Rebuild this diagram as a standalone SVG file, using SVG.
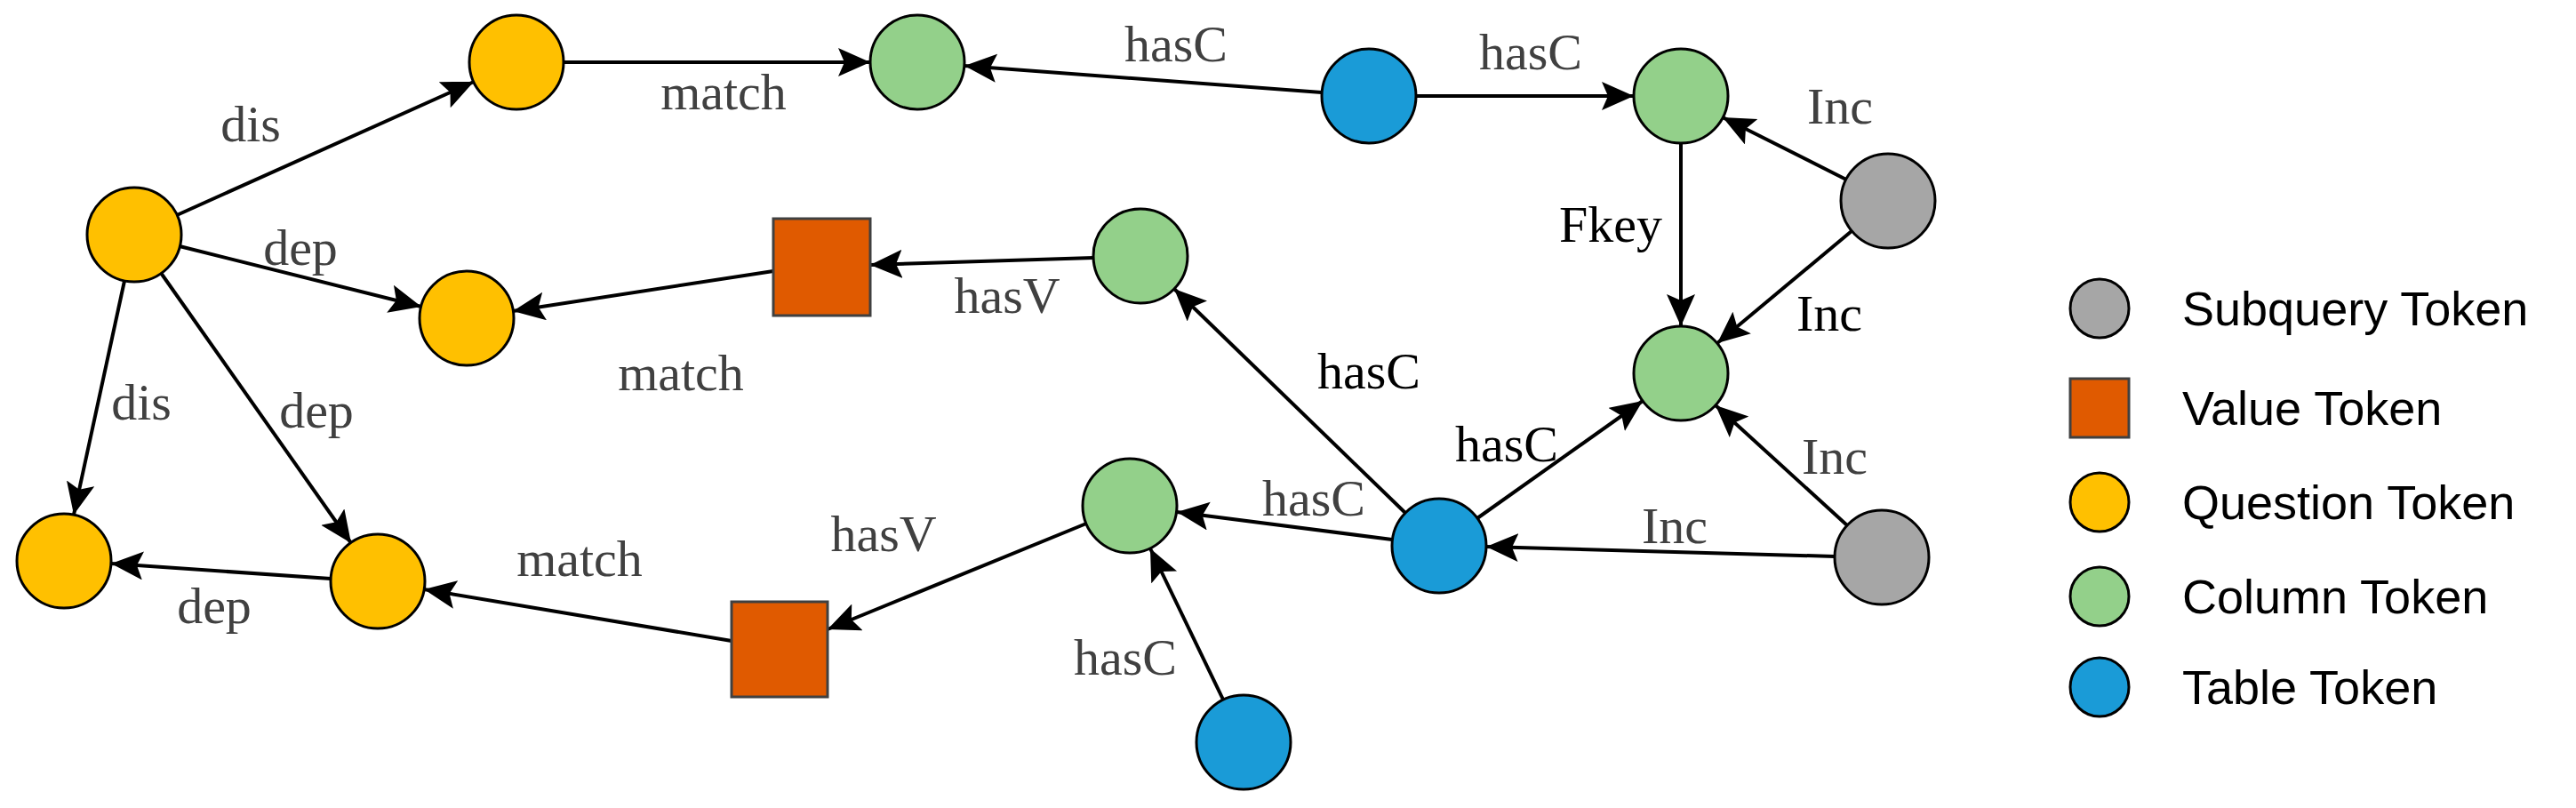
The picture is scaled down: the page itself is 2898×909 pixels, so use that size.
<svg xmlns="http://www.w3.org/2000/svg" width="2898" height="909" viewBox="0 0 2898 909">
<style>
.n{stroke:#000;stroke-width:3}
.q{fill:#FFC000}.c{fill:#93D08A}.t{fill:#1A9BD7}.s{fill:#A6A6A6}.v{fill:#E05A00;stroke:#404040;stroke-width:3}
.e{stroke:#000;stroke-width:4;fill:none;marker-end:url(#ah)}
.l{font-family:"Liberation Serif",serif;font-size:58px;fill:#404040;text-anchor:middle;dominant-baseline:central}
.k{fill:#000}
.g{font-family:"Liberation Sans",Arial,sans-serif;font-size:54px;fill:#000;dominant-baseline:central}
</style>
<defs><marker id="ah" markerUnits="userSpaceOnUse" markerWidth="38" markerHeight="34" refX="36" refY="16" orient="auto"><path d="M0,0 L36,16 L0,32 L7,16 z" fill="#000"/></marker></defs>
<rect width="2898" height="909" fill="#fff"/>
<g id="connectors">
<line class="e" x1="199" y1="242" x2="533" y2="92"/>
<line class="e" x1="634" y1="70" x2="979" y2="70"/>
<line class="e" x1="1487" y1="104" x2="1085" y2="74"/>
<line class="e" x1="1593" y1="108" x2="1838" y2="108"/>
<line class="e" x1="2077" y1="202" x2="1938" y2="132"/>
<line class="e" x1="1891" y1="161" x2="1891" y2="367"/>
<line class="e" x1="2083" y1="260" x2="1932" y2="386"/>
<line class="e" x1="202" y1="277" x2="474" y2="345"/>
<line class="e" x1="870" y1="305" x2="577" y2="350"/>
<line class="e" x1="1230" y1="290" x2="979" y2="298"/>
<line class="e" x1="1581" y1="577" x2="1321" y2="325"/>
<line class="e" x1="1662" y1="583" x2="1848" y2="451"/>
<line class="e" x1="2078" y1="591" x2="1930" y2="456"/>
<line class="e" x1="2064" y1="626" x2="1672" y2="615"/>
<line class="e" x1="1566" y1="607" x2="1324" y2="576"/>
<line class="e" x1="1222" y1="589" x2="931" y2="708"/>
<line class="e" x1="1376" y1="787" x2="1294" y2="617"/>
<line class="e" x1="823" y1="721" x2="477" y2="663"/>
<line class="e" x1="372" y1="651" x2="125" y2="634"/>
<line class="e" x1="140" y1="316" x2="83" y2="579"/>
<line class="e" x1="181" y1="307" x2="395" y2="611"/>
</g>
<g id="labels">
<text class="l" x="1323" y="49">hasC</text>
<text class="l" x="814" y="103">match</text>
<text class="l" x="282" y="139">dis</text>
<text class="l" x="338" y="278">dep</text>
<text class="l" x="1133" y="332">hasV</text>
<text class="l" x="766" y="419">match</text>
<text class="l" x="159" y="452">dis</text>
<text class="l" x="356" y="461">dep</text>
<text class="l" x="994" y="600">hasV</text>
<text class="l" x="652" y="628">match</text>
<text class="l" x="241" y="681">dep</text>
<text class="l" x="1266" y="739">hasC</text>
<text class="l" x="1722" y="58">hasC</text>
<text class="l" x="2070" y="119">Inc</text>
<text class="l k" x="1812" y="252">Fkey</text>
<text class="l k" x="2058" y="352">Inc</text>
<text class="l k" x="1540" y="417">hasC</text>
<text class="l k" x="1695" y="499">hasC</text>
<text class="l" x="1478" y="560">hasC</text>
<text class="l" x="2064" y="513">Inc</text>
<text class="l" x="1884" y="591">Inc</text>
</g>
<g id="q0"><circle class="n q" cx="151" cy="264" r="53"/></g>
<g id="q1"><circle class="n q" cx="581" cy="70" r="53"/></g>
<g id="q2"><circle class="n q" cx="525" cy="358" r="53"/></g>
<g id="q3"><circle class="n q" cx="72" cy="631" r="53"/></g>
<g id="q4"><circle class="n q" cx="425" cy="654" r="53"/></g>
<g id="c1"><circle class="n c" cx="1032" cy="70" r="53"/></g>
<g id="c2"><circle class="n c" cx="1283" cy="288" r="53"/></g>
<g id="c3"><circle class="n c" cx="1271" cy="569" r="53"/></g>
<g id="c4"><circle class="n c" cx="1891" cy="108" r="53"/></g>
<g id="c5"><circle class="n c" cx="1891" cy="420" r="53"/></g>
<g id="t1"><circle class="n t" cx="1540" cy="108" r="53"/></g>
<g id="t2"><circle class="n t" cx="1619" cy="614" r="53"/></g>
<g id="t3"><circle class="n t" cx="1399" cy="835" r="53"/></g>
<g id="s1"><circle class="n s" cx="2124" cy="226" r="53"/></g>
<g id="s2"><circle class="n s" cx="2117" cy="627" r="53"/></g>
<g id="v1"><rect class="v" x="870" y="246" width="109" height="109"/></g>
<g id="v2"><rect class="v" x="823" y="677" width="108" height="107"/></g>
<g id="legend">
<circle class="n s" cx="2362" cy="347" r="33"/><text class="g" x="2455" y="347">Subquery Token</text>
<rect class="v" x="2329" y="426" width="66" height="66"/><text class="g" x="2455" y="459">Value Token</text>
<circle class="n q" cx="2362" cy="565" r="33"/><text class="g" x="2455" y="565">Question Token</text>
<circle class="n c" cx="2362" cy="671" r="33"/><text class="g" x="2455" y="671">Column Token</text>
<circle class="n t" cx="2362" cy="773" r="33"/><text class="g" x="2455" y="773">Table Token</text>
</g>
</svg>
